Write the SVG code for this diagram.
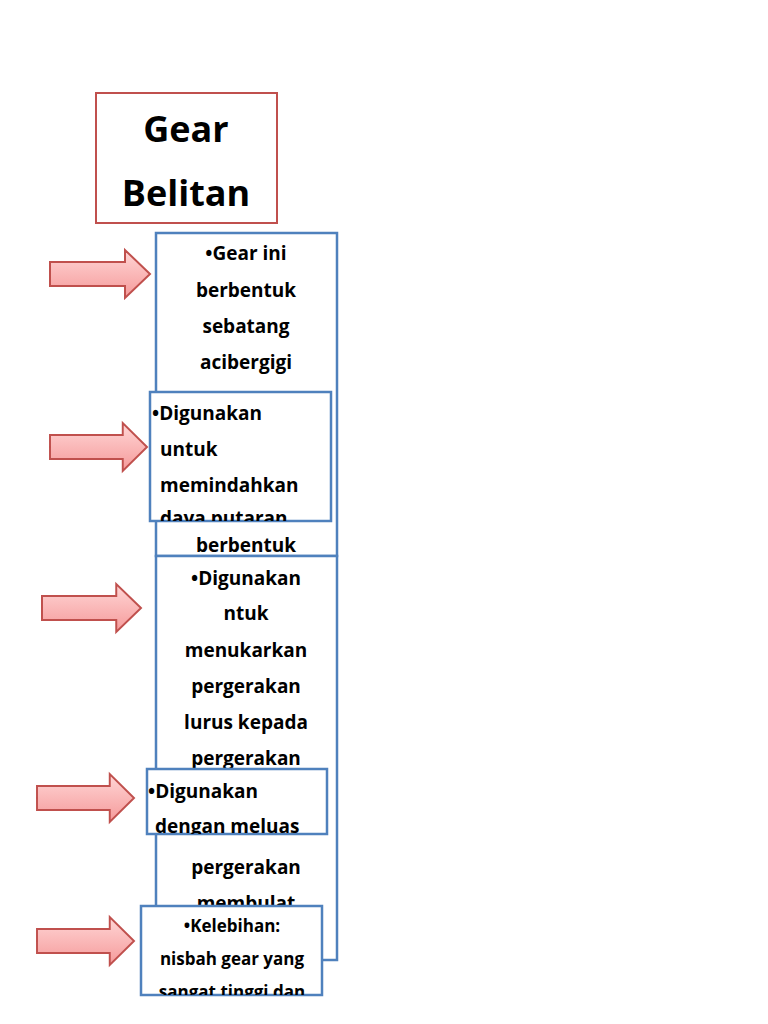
<svg xmlns="http://www.w3.org/2000/svg" width="768" height="1024" viewBox="0 0 768 1024">
<style>
.b{fill:#fff;stroke:#4f81bd;stroke-width:2.5}
.t{font-family:"Open Sans","Liberation Sans",sans-serif;font-weight:bold;font-size:19px;fill:#000}
.c{text-anchor:middle}
.ar{fill:url(#g);stroke:#c0504d;stroke-width:2}
</style>
<defs>
<linearGradient id="g" x1="0" y1="0" x2="0" y2="1"><stop offset="0" stop-color="#ffd6d6"/><stop offset="1" stop-color="#f59a9a"/></linearGradient>
<clipPath id="cb"><rect x="150" y="392" width="181" height="129"/></clipPath>
<clipPath id="cd"><rect x="147" y="769" width="180" height="65"/></clipPath>
<clipPath id="ce"><rect x="141" y="906" width="181" height="89"/></clipPath>
<path id="arrow" d="M0,-12 H75 V-24 L100,0 L75,24 V12 H0 Z"/>
</defs>
<g id="title"><rect x="96" y="93" width="181" height="130" fill="#fff" stroke="#c0504d" stroke-width="2"/>
<text class="t c" x="186" y="142" style="font-size:36px">Gear</text>
<text class="t c" x="186" y="206" style="font-size:36px">Belitan</text></g>
<g id="connectors">
<use href="#arrow" class="ar" transform="translate(50,274)"/>
<use href="#arrow" class="ar" transform="translate(50,447) scale(0.97,1)"/>
<use href="#arrow" class="ar" transform="translate(42,608) scale(0.99,1)"/>
<use href="#arrow" class="ar" transform="translate(37,798) scale(0.97,1)"/>
<use href="#arrow" class="ar" transform="translate(37,941) scale(0.97,1)"/>
</g>
<g id="boxA"><rect class="b" x="156" y="233" width="181" height="323"/>
<text class="t c" x="246" y="260">•Gear ini</text>
<text class="t c" x="246" y="297">berbentuk</text>
<text class="t c" x="246" y="333">sebatang</text>
<text class="t c" x="246" y="369">acibergigi</text>
<text class="t c" x="246" y="552">berbentuk</text></g>
<g id="boxC"><rect class="b" x="156" y="556" width="181" height="404"/>
<text class="t c" x="246" y="585">•Digunakan</text>
<text class="t c" x="246" y="620">ntuk</text>
<text class="t c" x="246" y="657">menukarkan</text>
<text class="t c" x="246" y="693">pergerakan</text>
<text class="t c" x="246" y="729">lurus kepada</text>
<text class="t c" x="246" y="765">pergerakan</text>
<text class="t c" x="246" y="874">pergerakan</text>
<text class="t c" x="246" y="910">membulat</text></g>
<g id="boxB"><rect class="b" x="150" y="392" width="181" height="129"/>
<g clip-path="url(#cb)"><text class="t" x="152" y="420">•Digunakan</text>
<text class="t" x="160" y="456">untuk</text>
<text class="t" x="160" y="492">memindahkan</text>
<text class="t" x="160" y="525">daya putaran</text></g></g>
<g id="boxD"><rect class="b" x="147" y="769" width="180" height="65"/>
<g clip-path="url(#cd)"><text class="t" x="148" y="798">•Digunakan</text>
<text class="t" x="155" y="833">dengan meluas</text></g></g>
<g id="boxE"><rect class="b" x="141" y="906" width="181" height="89"/>
<g clip-path="url(#ce)"><text class="t c" x="232" y="932" style="font-size:17px">•Kelebihan:</text>
<text class="t c" x="232" y="965" style="font-size:17px">nisbah gear yang</text>
<text class="t c" x="232" y="998" style="font-size:17px">sangat tinggi dan</text></g></g>
</svg>
